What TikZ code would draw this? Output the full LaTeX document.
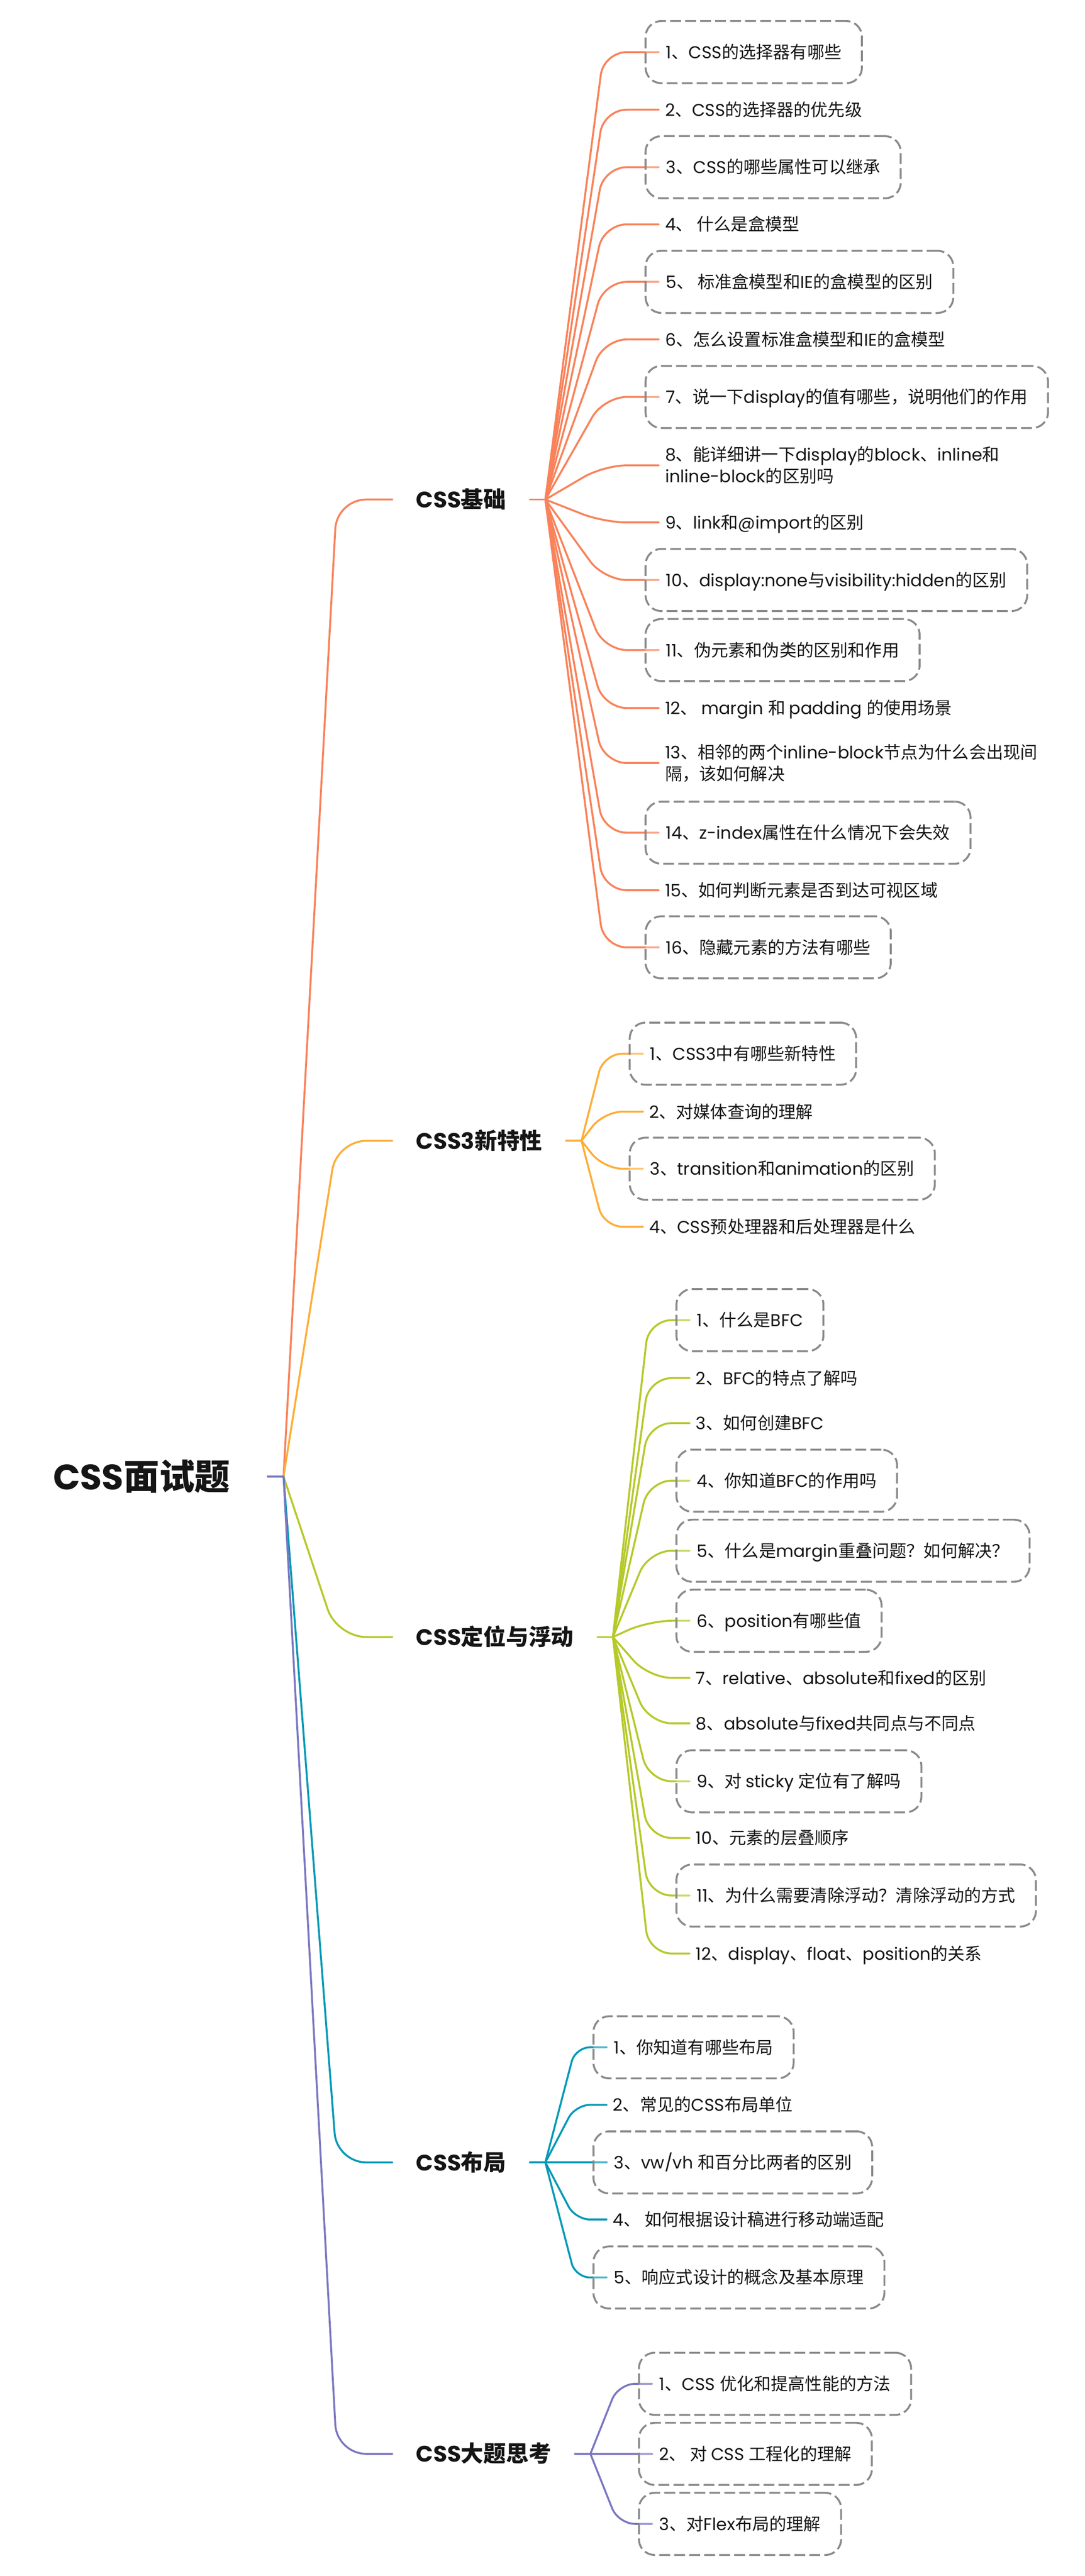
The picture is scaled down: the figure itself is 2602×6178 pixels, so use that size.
\documentclass[tikz,border=0pt]{standalone}
\usepackage{fontspec}
\setmainfont{Poppins}
\newfontfamily\cjkf{Noto Sans CJK SC}
\newfontfamily\latf{Poppins}
\XeTeXinterchartokenstate=1
\newXeTeXintercharclass\CJKcls
\newcount\cjkc
\cjkc="2E80
\loop\XeTeXcharclass\cjkc=\CJKcls\advance\cjkc by 1\ifnum\cjkc<"A000\repeat
\cjkc="FF00
\loop\XeTeXcharclass\cjkc=\CJKcls\advance\cjkc by 1\ifnum\cjkc<"FFF0\repeat
\XeTeXinterchartoks 0 \CJKcls = {\cjkf}
\XeTeXinterchartoks 4095 \CJKcls = {\cjkf}
\XeTeXinterchartoks \CJKcls 0 = {\latf}
\XeTeXinterchartoks 4095 0 = {\latf}
\usetikzlibrary{calc}
\pgfdeclarelayer{back}
\pgfdeclarelayer{bg}
\pgfsetlayers{back,bg,main}
\definecolor{cA}{HTML}{F9825A}
\definecolor{cB}{HTML}{FEAD37}
\definecolor{cC}{HTML}{B6C92B}
\definecolor{cD}{HTML}{0399B6}
\definecolor{cE}{HTML}{7B77C1}
\definecolor{boxgray}{HTML}{8A8A8A}
\definecolor{ink}{HTML}{151515}
\tikzset{
  kid/.style={anchor=west, inner xsep=49pt, inner ysep=0pt, minimum height=149pt,
    text height=34.5pt, text depth=4pt, font=\fontsize{41pt}{52pt}\selectfont, text=ink},
  kidtwo/.style={anchor=west, inner xsep=49pt, inner ysep=0pt, align=left,
    font=\fontsize{41pt}{52pt}\selectfont, text=ink},
  boxed/.style={draw=boxgray, line width=4.6pt, dash pattern=on 26pt off 10pt,
    rounded corners=38pt, fill=white, fill opacity=0.3, text opacity=1},
  branch/.style={anchor=west, inner xsep=57pt, inner ysep=0pt, text height=45pt,
    text depth=5.4pt, font=\bfseries\fontsize{54pt}{64pt}\selectfont, text=ink},
  rootn/.style={anchor=east, inner xsep=90pt, inner ysep=0pt, text height=71pt,
    text depth=8.5pt, font=\bfseries\fontsize{85pt}{100pt}\selectfont, text=ink},
  link/.style={line width=4.6pt, line cap=round, line join=round},
}
% colour, hub, corner x, radius, child node
\newcommand\kidlink[5]{%
  \draw[link,#1,rounded corners=#4pt] (#2) -- (#3,0 |- #5.west) -- ([xshift=34pt]#5.west);}
\newcommand\mainlink[2]{%
  \draw[link,#1,rounded corners=70pt] (rh) -- (808,0 |- #2.west) -- (#2.west);}
\begin{document}
\begin{tikzpicture}[x=1pt,y=-1pt]
\useasboundingbox (0,0) rectangle (2602,6178);
\begin{pgfonlayer}{back}
  \fill[white] (0,0) rectangle (2602,6178);
\end{pgfonlayer}

% root and branches
\node[rootn] (root) at (642,3541) {CSS面试题};
\coordinate (rh) at (680,3541);

\node[branch] (BA) at (941,1198) {CSS基础};
\node[branch] (BB) at (941,2736) {CSS3新特性};
\node[branch] (BC) at (941,3926) {CSS定位与浮动};
\node[branch] (BD) at (941,5186) {CSS布局};
\node[branch] (BE) at (941,5885) {CSS大题思考};
\coordinate (hA) at ([xshift=37pt]BA.east);
\coordinate (hB) at ([xshift=37pt]BB.east);
\coordinate (hC) at ([xshift=37pt]BC.east);
\coordinate (hD) at ([xshift=37pt]BD.east);
\coordinate (hE) at ([xshift=37pt]BE.east);

% CSS基础
\node[kid,boxed] (kA1) at (1546,125) {1、CSS的选择器有哪些};
\node[kid] (kA2) at (1546,263) {2、CSS的选择器的优先级};
\node[kid,boxed] (kA3) at (1546,401) {3、CSS的哪些属性可以继承};
\node[kid] (kA4) at (1546,538) {4、 什么是盒模型};
\node[kid,boxed] (kA5) at (1546,676) {5、 标准盒模型和IE的盒模型的区别};
\node[kid] (kA6) at (1546,814) {6、怎么设置标准盒模型和IE的盒模型};
\node[kid,boxed] (kA7) at (1546,952) {7、说一下display的值有哪些，说明他们的作用};
\node[kidtwo] (kA8) at (1546,1116) {8、能详细讲一下display的block、inline和\\inline-block的区别吗};
\node[kid] (kA9) at (1546,1253) {9、link和@import的区别};
\node[kid,boxed] (kA10) at (1546,1391) {10、display:none与visibility:hidden的区别};
\node[kid,boxed] (kA11) at (1546,1559) {11、伪元素和伪类的区别和作用};
\node[kid] (kA12) at (1546,1698) {12、 margin 和 padding 的使用场景};
\node[kidtwo] (kA13) at (1546,1830) {13、相邻的两个inline-block节点为什么会出现间\\隔，该如何解决};
\node[kid,boxed] (kA14) at (1546,1997) {14、z-index属性在什么情况下会失效};
\node[kid] (kA15) at (1546,2135) {15、如何判断元素是否到达可视区域};
\node[kid,boxed] (kA16) at (1546,2272) {16、隐藏元素的方法有哪些};

% CSS3新特性
\node[kid,boxed] (kB1) at (1508,2527) {1、CSS3中有哪些新特性};
\node[kid] (kB2) at (1508,2666) {2、对媒体查询的理解};
\node[kid,boxed] (kB3) at (1508,2803) {3、transition和animation的区别};
\node[kid] (kB4) at (1508,2942) {4、CSS预处理器和后处理器是什么};

% CSS定位与浮动
\node[kid,boxed] (kC1) at (1620,3166) {1、什么是BFC};
\node[kid] (kC2) at (1620,3305) {2、BFC的特点了解吗};
\node[kid] (kC3) at (1620,3413) {3、如何创建BFC};
\node[kid,boxed] (kC4) at (1620,3551) {4、你知道BFC的作用吗};
\node[kid,boxed] (kC5) at (1620,3719) {5、什么是margin重叠问题？如何解决？};
\node[kid,boxed] (kC6) at (1620,3887) {6、position有哪些值};
\node[kid] (kC7) at (1620,4024) {7、relative、absolute和fixed的区别};
\node[kid] (kC8) at (1620,4133) {8、absolute与fixed共同点与不同点};
\node[kid,boxed] (kC9) at (1620,4272) {9、对 sticky 定位有了解吗};
\node[kid] (kC10) at (1620,4408) {10、元素的层叠顺序};
\node[kid,boxed] (kC11) at (1620,4546) {11、为什么需要清除浮动？清除浮动的方式};
\node[kid] (kC12) at (1620,4685) {12、display、float、position的关系};

% CSS布局
\node[kid,boxed] (kD1) at (1421,4910) {1、你知道有哪些布局};
\node[kid] (kD2) at (1421,5048) {2、常见的CSS布局单位};
\node[kid,boxed] (kD3) at (1421,5186) {3、vw/vh 和百分比两者的区别};
\node[kid] (kD4) at (1421,5323) {4、 如何根据设计稿进行移动端适配};
\node[kid,boxed] (kD5) at (1421,5462) {5、响应式设计的概念及基本原理};

% CSS大题思考
\node[kid,boxed] (kE1) at (1530,5717) {1、CSS 优化和提高性能的方法};
\node[kid,boxed] (kE2) at (1530,5885) {2、 对 CSS 工程化的理解};
\node[kid,boxed] (kE3) at (1530,6053) {3、对Flex布局的理解};

\begin{pgfonlayer}{bg}
  % root to branches
  \mainlink{cA}{BA}
  \mainlink{cB}{BB}
  \mainlink{cC}{BC}
  \mainlink{cD}{BD}
  \mainlink{cE}{BE}
  \draw[link,cE] (root.east) -- (rh);
  % branch stubs
  \draw[link,cA] (BA.east) -- (hA);
  \draw[link,cB] (BB.east) -- (hB);
  \draw[link,cC] (BC.east) -- (hC);
  \draw[link,cD] (BD.east) -- (hD);
  \draw[link,cE] (BE.east) -- (hE);
  % children
  \foreach \k in {1,...,16} {\kidlink{cA}{hA}{1448}{55}{kA\k}}
  \foreach \k in {1,...,4} {\kidlink{cB}{hB}{1448}{45}{kB\k}}
  \foreach \k in {1,...,12} {\kidlink{cC}{hC}{1556}{55}{kC\k}}
  \foreach \k in {1,...,5} {\kidlink{cD}{hD}{1380}{35}{kD\k}}
  \foreach \k in {1,...,3} {\kidlink{cE}{hE}{1483}{40}{kE\k}}
\end{pgfonlayer}
\end{tikzpicture}
\end{document}
